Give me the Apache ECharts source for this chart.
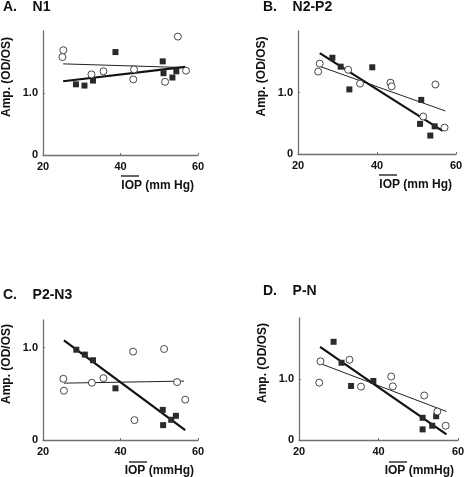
<!DOCTYPE html>
<html lang="en">
<head>
    <meta charset="UTF-8">
    <title>IOP vs amplitude</title>
    <script type="text/javascript" src="https://cdn.jsdelivr.net/npm/echarts@6/dist/echarts.min.js"></script>
    <style>
        html, body { margin: 0; padding: 0; background: #fff; }
    </style>
</head>
<body>
<div id="chart" style="width: 474px;height:477px;"></div>
</body>
<script type="text/javascript">

    // panel titles
    const titles = ['A.    N1', 'B.    N2-P2', 'C.    P2-N3', 'D.    P-N'];
    const xNames = ['IOP (mm Hg)', 'IOP (mm Hg)', 'IOP (mmHg)', 'IOP (mmHg)'];
    const yMax = [2, 2, 1.3, 2];

    // open circles: [IOP, amplitude]
    const openA = [[25.25, 1.69], [25.0, 1.58], [32.5, 1.30], [35.6, 1.35], [43.5, 1.38], [43.3, 1.22], [51.5, 1.18], [54.8, 1.91], [56.9, 1.36]];
    const openB = [[25.5, 1.47], [25.1, 1.34], [32.7, 1.37], [35.7, 1.145], [43.4, 1.16], [43.7, 1.10], [51.7, 0.61], [54.8, 1.13], [57.1, 0.43]];
    const openC = [[25.25, 0.663], [25.4, 0.534], [32.6, 0.62], [35.6, 0.67], [43.25, 0.957], [43.6, 0.215], [51.25, 0.986], [54.6, 0.627], [56.7, 0.437]];
    const openD = [[25.4, 1.29], [25.1, 0.94], [32.7, 1.315], [35.6, 0.875], [43.2, 1.04], [43.6, 0.88], [51.5, 0.73], [54.8, 0.467], [56.9, 0.234]];

    // filled squares: [IOP, amplitude]
    const fillA = [[28.5, 1.14], [30.7, 1.12], [32.9, 1.20], [38.7, 1.66], [50.9, 1.51], [51.1, 1.32], [53.4, 1.25], [54.4, 1.35]];
    const fillB = [[28.7, 1.565], [30.8, 1.42], [33.0, 1.05], [38.8, 1.41], [51.2, 0.88], [50.9, 0.49], [53.5, 0.30], [54.6, 0.45]];
    const fillC = [[28.6, 0.978], [30.8, 0.925], [32.9, 0.864], [38.7, 0.56], [50.9, 0.326], [51.0, 0.161], [53.1, 0.219], [54.3, 0.262]];
    const fillD = [[28.7, 1.61], [30.7, 1.266], [33.1, 0.886], [38.7, 0.967], [51.1, 0.364], [51.1, 0.174], [53.5, 0.234], [54.5, 0.39]];

    // regression line end points
    const fitOpenA = [[25.2, 1.47], [56.7, 1.41]];
    const fitOpenB = [[25.5, 1.425], [57.3, 0.70]];
    const fitOpenC = [[25.4, 0.616], [56.4, 0.638]];
    const fitOpenD = [[25.3, 1.255], [57.1, 0.467]];
    const fitFillA = [[25.2, 1.19], [56.7, 1.42]];
    const fitFillB = [[25.5, 1.64], [56.6, 0.376]];
    const fitFillC = [[25.4, 1.08], [56.7, 0.108]];
    const fitFillD = [[25.3, 1.527], [57.1, 0.092]];

    const openSets = [openA, openB, openC, openD];
    const fillSets = [fillA, fillB, fillC, fillD];
    const fitOpen = [fitOpenA, fitOpenB, fitOpenC, fitOpenD];
    const fitFill = [fitFillA, fitFillB, fitFillC, fitFillD];

    const grids = [
        {left: 38, top: 31, width: 160, height: 124},
        {left: 298, top: 31, width: 158, height: 123},
        {left: 38, top: 320, width: 160, height: 121},
        {left: 299, top: 318, width: 159, height: 123}
    ];
    const titlePos = [[3, 0], [263, 0], [3, 288], [263, 284]];

    const font = 'Liberation Sans, Arial, sans-serif';
    const axisColor = '#707070';

    let option = {
        backgroundColor: '#fff',
        animation: false,
        title: titles.map((t, i) => ({
            text: t,
            left: titlePos[i][0],
            top: titlePos[i][1],
            padding: 0,
            textStyle: {fontFamily: font, fontSize: 14, fontWeight: 'bold', color: '#111'}
        })),
        grid: grids,
        xAxis: grids.map((g, i) => ({
            gridIndex: i,
            type: 'value',
            min: 20,
            max: 60,
            interval: 20,
            name: xNames[i],
            nameLocation: 'end',
            nameGap: -4,
            nameTextStyle: {
                fontFamily: font, fontSize: 12, fontWeight: 'bold', color: '#111',
                align: 'right', verticalAlign: 'top', padding: [25, 0, 0, 0]
            },
            splitLine: {show: false},
            axisLine: {lineStyle: {color: axisColor, width: 1.3}},
            axisTick: {inside: true, length: 2, lineStyle: {color: axisColor}},
            axisLabel: {
                fontFamily: font, fontSize: 11, fontWeight: 'bold', color: '#111', margin: 6
            }
        })),
        yAxis: grids.map((g, i) => ({
            gridIndex: i,
            type: 'value',
            min: 0,
            max: yMax[i],
            interval: 1,
            name: 'Amp. (OD/OS)',
            nameLocation: 'middle',
            nameGap: 30,
            nameTextStyle: {
                fontFamily: font, fontSize: 12, fontWeight: 'bold', color: '#111',
                padding: [0, 0, 0, 32]
            },
            splitLine: {show: false},
            axisLine: {show: true, lineStyle: {color: axisColor, width: 1.3}},
            axisTick: {inside: true, length: 2, customValues: [0, 1], lineStyle: {color: axisColor}},
            axisLabel: {
                customValues: [0, 1],
                fontFamily: font, fontSize: 11, fontWeight: 'bold', color: '#111', margin: 5,
                formatter: v => (v === 0 ? '0' : v.toFixed(1))
            }
        })),
        series: []
    };

    for (let i = 0; i < 4; i++) {
        option.series.push({
            type: 'line', xAxisIndex: i, yAxisIndex: i,
            data: fitOpen[i], symbol: 'none', silent: true,
            lineStyle: {color: '#222', width: 1}, z: 2
        });
        option.series.push({
            type: 'line', xAxisIndex: i, yAxisIndex: i,
            data: fitFill[i], symbol: 'none', silent: true,
            lineStyle: {color: '#111', width: 2.2}, z: 2
        });
        option.series.push({
            type: 'scatter', xAxisIndex: i, yAxisIndex: i,
            data: fillSets[i], symbol: 'rect', symbolSize: 6,
            itemStyle: {color: '#2a2a2a', opacity: 1}, z: 3
        });
        option.series.push({
            type: 'scatter', xAxisIndex: i, yAxisIndex: i,
            data: openSets[i], symbol: 'circle', symbolSize: 7,
            itemStyle: {color: '#fff', borderColor: '#333', borderWidth: 0.9, opacity: 1}, z: 4
        });
    }

    let chart = echarts.init(document.getElementById('chart'));
    chart.setOption(option);

    // overline above "IOP" in each x-axis name
    function drawOverlines() {
        let items = [];
        grids.forEach((g, i) => {
            let endX = g.left + g.width - 4;
            let w = i < 2 ? 74 : 66;
            let x0 = endX - w;
            let y = g.top + g.height + 21;
            items.push({
                type: 'line',
                shape: {x1: x0 + 1, y1: y, x2: x0 + 19, y2: y},
                style: {stroke: '#111', lineWidth: 1.3}
            });
        });
        chart.setOption({graphic: items});
    }
    drawOverlines();
</script>
</html>
